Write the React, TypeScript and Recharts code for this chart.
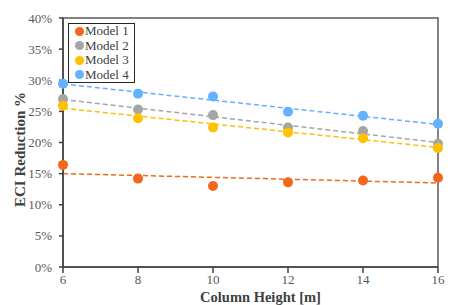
import React from 'react';
import {
  ComposedChart, Scatter, Line, XAxis, YAxis, ReferenceArea, Label,
} from 'recharts';

const heights = [6, 8, 10, 12, 14, 16];
const model1 = [16.4, 14.2, 13.0, 13.6, 13.9, 14.35];
const model2 = [27.0, 25.3, 24.4, 22.4, 21.85, 19.8];
const model3 = [25.9, 23.9, 22.4, 21.6, 20.7, 19.1];
const model4 = [29.45, 27.85, 27.4, 24.95, 24.3, 23.0];

const trendX = [6, 16];
const trend1 = [15.0, 13.5];
const trend2 = [26.9, 20.0];
const trend3 = [25.5, 19.2];
const trend4 = [29.4, 22.9];

const names = ['Model 1', 'Model 2', 'Model 3', 'Model 4'];
const colors = ['#F4661B', '#A5A5A5', '#FFC000', '#62B2FF'];
const xTicks = [6, 8, 10, 12, 14, 16];
const yTicks = [0, 5, 10, 15, 20, 25, 30, 35, 40];

const series = [model1, model2, model3, model4];
const trends = [trend1, trend2, trend3, trend4];

const pts = (vals: number[]) => heights.map((h, i) => ({ x: h, y: vals[i] }));
const trendPts = (vals: number[]) => trendX.map((h, i) => ({ x: h, y: vals[i] }));

const FONT = '"Liberation Serif", "Times New Roman", serif';

const LegendBox = () => (
  <div
    style={{
      position: 'absolute',
      left: 68,
      top: 23,
      border: '1.5px solid #262626',
      background: '#fff',
      padding: '0px 3px 0px 6px',
      fontFamily: FONT,
      fontSize: 13,
      color: '#404040',
      lineHeight: '14.5px',
      width: 56,
    }}
  >
    {names.map((n, i) => (
      <div key={n} style={{ display: 'flex', alignItems: 'center' }}>
        <span
          style={{
            display: 'inline-block',
            width: 9,
            height: 9,
            borderRadius: '50%',
            background: colors[i],
            marginRight: 1,
          }}
        />
        <span>{n}</span>
      </div>
    ))}
  </div>
);

const YTitle = (props: any) => {
  const vb = props.viewBox || { x: 0, y: 0, width: 0, height: 0 };
  const cx = vb.x + 20;
  const cy = vb.y + vb.height / 2 + 7;
  return (
    <text
      x={cx}
      y={cy}
      transform={`rotate(-90 ${cx} ${cy})`}
      textAnchor="middle"
      dominantBaseline="central"
      fontFamily={FONT}
      fontSize={15}
      fontWeight="bold"
      fill="#404040"
    >
      ECI Reduction %
    </text>
  );
};

export default function App() {
  return (
    <div style={{ position: 'absolute', left: 0, top: 0, fontFamily: FONT, width: 474, height: 305 }}>
      <ComposedChart
        width={474}
        height={305}
        margin={{ top: 18, right: 36, bottom: 0, left: 0 }}
        style={{ fontFamily: FONT }}
      >
        <ReferenceArea
          x1={6}
          x2={16}
          y1={0}
          y2={40}
          fill="none"
          stroke="#595959"
          strokeWidth={1.5}
          ifOverflow="visible"
        />
        <XAxis
          type="number"
          dataKey="x"
          domain={[6, 16]}
          ticks={xTicks}
          height={38}
          stroke="#404040"
          strokeWidth={1.5}
          tickSize={6}
          tickMargin={2}
          tick={{ fill: '#595959', fontFamily: FONT, fontSize: 13 }}
        >
          <Label
            value="Column Height [m]"
            position="insideBottom"
            offset={3}
            dx={10}
            fontFamily={FONT}
            style={{ fontFamily: FONT, fontSize: 14.5, fontWeight: 'bold', fill: '#404040' }}
          />
        </XAxis>
        <YAxis
          type="number"
          dataKey="y"
          domain={[0, 40]}
          ticks={yTicks}
          width={63}
          stroke="#404040"
          strokeWidth={1.5}
          tickSize={4}
          tickMargin={7}
          tickFormatter={(v: number) => `${v}%`}
          tick={{ fill: '#595959', fontFamily: FONT, fontSize: 13 }}
        >
          <Label position="insideLeft" content={<YTitle />} />
        </YAxis>
        {trends.map((t, i) => (
          <Line
            key={'t' + i}
            data={trendPts(t)}
            dataKey="y"
            stroke={colors[i]}
            strokeWidth={1.5}
            strokeDasharray="5 3"
            dot={false}
            activeDot={false}
            isAnimationActive={false}
            legendType="none"
          />
        ))}
        {series.map((s, i) => (
          <Scatter
            key={'s' + i}
            name={names[i]}
            data={pts(s)}
            fill={colors[i]}
            isAnimationActive={false}
            shape={(p: any) => <circle cx={p.cx} cy={p.cy} r={5} fill={colors[i]} />}
          />
        ))}
      </ComposedChart>
      <LegendBox />
    </div>
  );
}
